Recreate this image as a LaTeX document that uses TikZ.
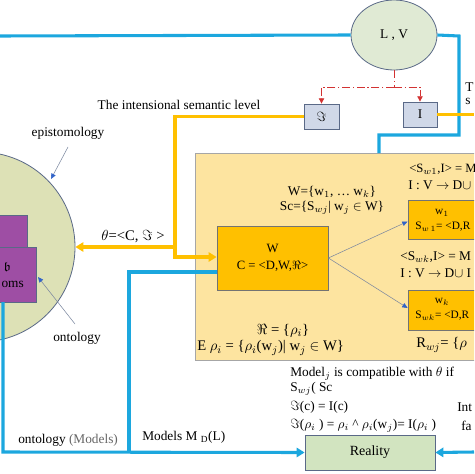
\documentclass[tikz,border=0pt]{standalone}
\usepackage{fontspec}
\setmainfont{Liberation Serif}
\usepackage{amssymb}
\usetikzlibrary{arrows.meta,shapes.geometric}
\definecolor{cyanB}{RGB}{28,167,222}
\definecolor{goldL}{RGB}{255,192,0}
\definecolor{bgOr}{RGB}{253,228,160}
\definecolor{wFill}{RGB}{255,192,0}
\definecolor{bordG}{RGB}{90,105,135}
\definecolor{ellF}{RGB}{224,234,212}
\definecolor{smallF}{RGB}{208,216,232}
\definecolor{realF}{RGB}{210,228,192}
\definecolor{circF}{RGB}{221,225,182}
\definecolor{purp}{RGB}{158,78,164}
\definecolor{redD}{RGB}{210,50,50}
\definecolor{tipB}{RGB}{50,100,200}
\begin{document}
\begin{tikzpicture}[x=0.75pt,y=-0.75pt,
  blueline/.style={draw=cyanB,line width=2.3pt},
  yline/.style={draw=goldL,line width=2.3pt},
  btip/.style={-{Triangle[length=6pt,width=7pt]}},
  thinarr/.style={draw=bordG!80,line width=0.4pt,-{Triangle[length=4pt,width=3.5pt,color=tipB]}},
  reddash/.style={draw=redD,line width=0.7pt,dash pattern=on 6pt off 2pt on 1pt off 2pt},
  redline/.style={reddash,-{Triangle[length=4pt,width=4pt]}},
  txt/.style={font=\fontsize{10}{12}\selectfont,inner sep=0pt},
  stxt/.style={font=\fontsize{8.5}{10}\selectfont,inner sep=0pt},
  boxy/.style={draw=bordG,line width=0.6pt,rectangle,inner sep=0pt}
]
\useasboundingbox (0,0) rectangle (474,474);
\clip (0,0) rectangle (474,474);

% circle epistomology
\node[circle,draw=bordG,line width=0.6pt,fill=circF,minimum size=142.5pt,inner sep=0pt] (circ) at (-20,247) {};
% purple boxes
\node[boxy,fill=purp,minimum width=27.75pt,minimum height=33.75pt] (pback) at (8.5,237.5) {};
\node[boxy,fill=purp,minimum width=34.5pt,minimum height=41.25pt] (pfront) at (13,274.5) {};
\node[txt,anchor=east] (pb) at (11,267) {$\mathfrak{b}$};
\node[txt,anchor=east] (poms) at (24,284) {oms};

% big orange box
\node[boxy,draw=gray!70,fill=bgOr,minimum width=213.75pt,minimum height=155.25pt] (big) at (337.5,256.5) {};
% W box
\node[boxy,draw=gray!90!black,fill=wFill,minimum width=83.25pt,minimum height=48pt,align=center,font=\fontsize{9.5}{13}\selectfont] (Wb) at (272.5,258) {W\\C = <D,W,$\Re$>};
% w1 box
\node[boxy,draw=gray!90!black,fill=wFill,minimum width=54pt,minimum height=29.25pt] (w1) at (444,219.5) {};
\node[stxt] (w1a) at (442,213) {w$_1$};
\node[stxt,anchor=west] (w1b) at (415,227) {S$_{w\,1}$= <D,R};
% wk box
\node[boxy,draw=gray!90!black,fill=wFill,minimum width=54pt,minimum height=30pt] (wk) at (444,310) {};
\node[stxt] (wka) at (442,302) {w$_k$};
\node[stxt,anchor=west] (wkb) at (415,316) {S$_{wk}$= <D,R};

% ellipse L,V
\node[ellipse,draw=bordG,line width=0.6pt,fill=ellF,minimum width=64.5pt,minimum height=52.5pt,font=\fontsize{10}{12}\selectfont] (LV) at (394,35) {L , V};
% small boxes
\node[boxy,fill=smallF,minimum width=26.25pt,minimum height=18.75pt,font=\fontsize{10}{12}\selectfont] (Im) at (321.5,116.5) {$\Im$};
\node[boxy,fill=smallF,minimum width=25.5pt,minimum height=18.75pt,font=\fontsize{10}{12}\selectfont] (Ib) at (420,114.5) {I};
% Reality
\node[boxy,fill=realF,minimum width=97.5pt,minimum height=26.25pt,font=\fontsize{10.5}{12}\selectfont] (Real) at (370,452.5) {Reality};

% coordinates
\coordinate (tl) at (0,36);
\coordinate (c1) at (459,36);
\coordinate (c2) at (459,135);
\coordinate (c3) at (379,135);
\coordinate (c4) at (379,153);
\coordinate (r0) at (394,87);
\coordinate (r1) at (321.5,87);
\coordinate (r2) at (420,87);
\coordinate (y1) at (175,116.5);
\coordinate (y2) at (175,257);
\coordinate (y3) at (175,247);
\coordinate (yr) at (474,114.5);
\coordinate (bw) at (217,272);
\coordinate (b1) at (129,272);
\coordinate (b2) at (129,452);
\coordinate (b3) at (3,302);
\coordinate (b4) at (3,452);
\coordinate (br) at (474,452);

% blue lines
\draw[blueline] (tl) -- (LV.west);
\draw[blueline] (LV.east) -- (c1) -- (c2) -- (c3) -- (c4);
\draw[blueline] (bw) -- (b1) -- (b2);
\draw[blueline,btip] (b3) -- (b4) -- (Real.west);
\draw[blueline,btip] (br) -- (Real.east);

% red dash dot
\draw[reddash] (LV.south) -- (r0);
\draw[redline] (r0) -- (r1) -- (Im.north);
\draw[redline] (r0) -- (r2) -- (Ib.north);

% yellow lines
\draw[yline,btip] (Im.west) -- (y1) -- (y2) -- (Wb.west |- y2);
\draw[yline,btip] (y3) -- (circ.east);
\draw[yline] (Ib.east) -- (yr);

% thin arrows
\draw[thinarr] (Wb.east) -- ([yshift=-1.5pt]w1.west);
\draw[thinarr] (Wb.east) -- ([yshift=1.5pt]wk.west);

% labels
\node[txt] (lev) at (179,105) {The intensional semantic level};
\node[txt] (epi) at (68,133) {epistomology};
\coordinate (epiA) at (68,147);
\coordinate (epiB) at (51,179);
\draw[thinarr] (epiA) -- (epiB);
\node[txt] (ont) at (77,338) {ontology};
\coordinate (ontA) at (75,324);
\coordinate (ontB) at (38,277);
\draw[thinarr] (ontA) -- (ontB);
\node[txt,font=\fontsize{11}{12}\selectfont] (theta) at (133,237) {$\theta$=<C, $\Im$ >};
\node[txt,anchor=west] (tT) at (465,87) {T};
\node[txt,anchor=west] (tS) at (465,101) {s};

\node[txt] (Wset) at (332,192) {W=\{w$_1$, … w$_k$\}};
\node[txt] (Sc) at (332,208) {Sc=\{S$_{wj}$| w$_j$ $\in$ W\}};
\node[txt,anchor=west,font=\fontsize{9.5}{12}\selectfont] (s1a) at (409,169) {<S$_{w1}$,I> = M};
\node[txt,anchor=west] (s1b) at (408,185) {I : V $\rightarrow$ D$\cup$};
\node[txt,anchor=west] (ska) at (400,257) {<S$_{wk}$,I> = M};
\node[txt,anchor=west] (skb) at (400,273) {I : V $\rightarrow$ D$\cup$ I};
\node[txt,anchor=west,font=\fontsize{11}{12}\selectfont] (Rwj) at (416,345) {R$_{wj}$= \{$\rho$};
\node[txt,font=\fontsize{11}{12}\selectfont] (Rset) at (283,331) {$\Re$ = \{$\rho_i$\}};
\node[txt,anchor=west,font=\fontsize{11}{12}\selectfont] (Erho) at (197,348) {E $\rho_i$ = \{$\rho_i$(w$_j$)| w$_j$ $\in$ W\}};

\node[txt,anchor=west] (m1) at (290,374) {Model$_j$ is compatible with $\theta$ if};
\node[txt,anchor=west] (m2) at (290,389) {S$_{wj}$( Sc};
\node[txt,anchor=west] (m3) at (290,407) {$\Im$(c) = I(c)};
\node[txt,anchor=west] (m4) at (290,426) {$\Im$($\rho_i$ ) = $\rho_i$ \^{} $\rho_i$(w$_j$)= I($\rho_i$ )};
\node[txt,anchor=west] (int) at (457,407) {Int};
\node[txt,anchor=west] (fa) at (461,426) {fa};

\node[txt,anchor=west] (mod) at (142,437) {Models M $_{\mathrm{D}}$(L)};
\node[txt,anchor=west] (ontm) at (18,440) {ontology {\color{gray!80!black}(Models)}};
\end{tikzpicture}
\end{document}
